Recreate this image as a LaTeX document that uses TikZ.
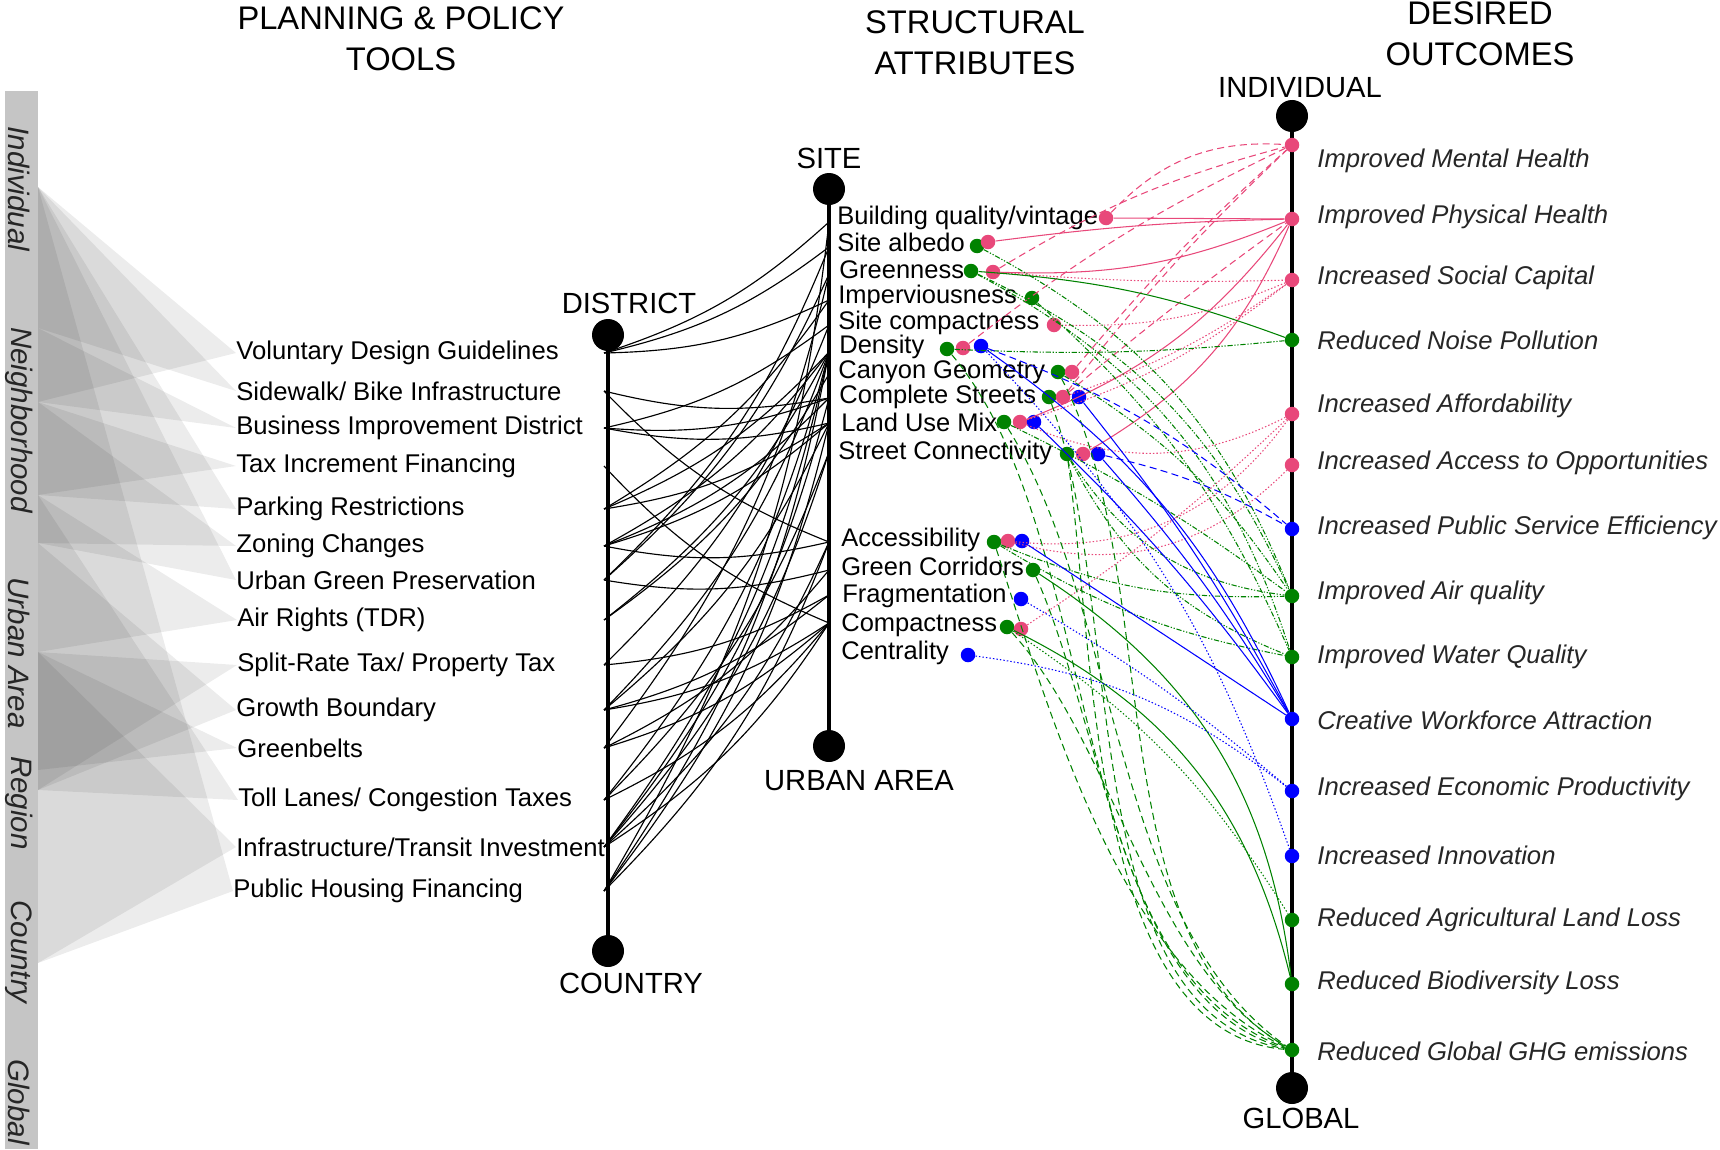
\documentclass[tikz,border=0pt]{standalone}
\usepackage{fontspec}
\setmainfont{Liberation Sans}
\usepackage{tikz}
\usetikzlibrary{positioning}
\definecolor{outpink}{RGB}{232,72,122}
\definecolor{outgreen}{RGB}{0,130,0}
\definecolor{outblue}{RGB}{0,0,255}
\definecolor{bargray}{RGB}{197,197,197}
\tikzset{
  head/.style={align=center, inner sep=0pt, font=\fontsize{18.6}{23.2}\selectfont},
  axlabel/.style={inner sep=0pt, font=\fontsize{16.6}{20}\selectfont},
  scalelab/.style={rotate=-90, inner sep=0pt, text=black!85, font=\fontsize{16.8}{20}\selectfont\itshape},
  tool/.style={anchor=west, inner sep=0pt, font=\fontsize{14.6}{17}\selectfont},
  attr/.style={anchor=west, inner sep=0pt, font=\fontsize{14.5}{17}\selectfont},
  outc/.style={anchor=west, inner sep=0pt, text=black!85, font=\fontsize{14.6}{17}\selectfont\itshape},
  bigdot/.style={circle, fill=black, inner sep=0pt, minimum size=6.4mm},
  dotg/.style={circle, fill=outgreen, inner sep=0pt, minimum size=2.9mm},
  dotp/.style={circle, fill=outpink, inner sep=0pt, minimum size=2.9mm},
  dotb/.style={circle, fill=outblue, inner sep=0pt, minimum size=2.9mm},
  axis/.style={line width=1.8pt},
  link/.style={line width=0.65pt, bend right=12},
  fan/.style={fill=black, fill opacity=0.075},
  pk/.style={draw=outpink, line width=0.6pt},
  gn/.style={draw=outgreen, line width=0.6pt},
  bl/.style={draw=outblue, line width=0.6pt},
  lsolid/.style={solid},
  ldash/.style={dash pattern=on 4pt off 2.5pt},
  ldot/.style={dash pattern=on 0.8pt off 1.2pt},
  ldd/.style={dash pattern=on 3pt off 1pt on 0.7pt off 1pt on 0.7pt off 1pt},
}

\begin{document}
\begin{tikzpicture}[x=0.2mm,y=0.2mm]
  \useasboundingbox (0,0) rectangle (1720,-1149);

  % scale bar
  \fill[bargray] (5,-91) rectangle (38,-1149);
  \foreach \i/\n/\y in {1/Individual/189, 2/Neighborhood/420, 3/Urban Area/653, 4/Region/803, 5/Country/952, 6/Global/1102}
    \node[scalelab] (sc\i) at (19,-\y) {\n};
  \foreach \i/\y in {1/187,2/328,3/402,4/495,5/543,6/652,7/770,8/790,9/963}
    \coordinate (b\i) at (38,-\y);

  % headings
  \node[head] (hplan) at (401,-39) {PLANNING \& POLICY\\TOOLS};
  \node[head] (hstruct) at (975,-43) {STRUCTURAL\\ATTRIBUTES};
  \node[head] (hout) at (1480,-34) {DESIRED\\OUTCOMES};

  % planning tools
  \node[tool] (t1) at (236,-353) {Voluntary Design Guidelines};
  \node[tool] (t2) at (236,-391) {Sidewalk/ Bike Infrastructure};
  \node[tool] (t3) at (236,-428) {Business Improvement District};
  \node[tool] (t4) at (236,-466) {Tax Increment Financing};
  \node[tool] (t5) at (236,-509) {Parking Restrictions};
  \node[tool] (t6) at (236,-546) {Zoning Changes};
  \node[tool] (t7) at (236,-580) {Urban Green Preservation};
  \node[tool] (t8) at (237,-620) {Air Rights (TDR)};
  \node[tool] (t9) at (237,-665) {Split-Rate Tax/ Property Tax};
  \node[tool] (t10) at (236,-710) {Growth Boundary};
  \node[tool] (t11) at (237,-748) {Greenbelts};
  \node[tool] (t12) at (238,-800) {Toll Lanes/ Congestion Taxes};
  \node[tool] (t13) at (236,-847) {Infrastructure/Transit Investment};
  \node[tool] (t14) at (233,-891) {Public Housing Financing};

  \foreach \i/\p/\q in {1/1/3, 2/1/2, 3/2/3, 4/3/4, 5/1/4, 6/3/5, 7/1/5, 8/4/6, 9/6/8, 10/5/8, 11/6/7, 12/4/8, 13/6/9, 14/1/9}
    \fill[fan] (b\p) -- (b\q) -- (t\i.west) -- cycle;

  % scale axes
  \node[bigdot] (district) at (608,-335) {};
  \node[bigdot] (country) at (608,-951) {};
  \node[axlabel] (ldistrict) at (629,-303) {DISTRICT};
  \node[axlabel] (lcountry) at (631,-983) {COUNTRY};
  \node[bigdot] (site) at (829,-189) {};
  \node[bigdot] (urban) at (829,-746) {};
  \node[axlabel, above=0.8mm of site] (lsite) {SITE};
  \node[axlabel] (lurban) at (859,-781) {URBAN AREA};
  \node[bigdot] (indiv) at (1292,-116) {};
  \node[bigdot] (global) at (1292,-1088) {};
  \node[axlabel] (lindiv) at (1300,-88) {INDIVIDUAL};
  \node[axlabel] (lglobal) at (1301,-1118) {GLOBAL};

  % tools -> attributes
  \foreach \i/\y in {1/353,2/391,3/428,4/466,5/509,6/546,7/580,8/620,9/665,10/710,11/748,12/800,13/847,14/891}
    \coordinate (d\i) at (604,-\y);
  \foreach \i/\y in {1/222,2/247,3/274,4/300,5/325,6/352,7/374,8/398,9/423,10/452,11/542,12/570,13/595,14/623,15/653}
    \coordinate (s\i) at (829,-\y);
  \foreach \t/\a in {1/1,14/1, 1/2,7/2, 7/3,11/3, 1/4,5/4, 3/5,9/5,
      5/6,6/6,8/6,10/6,12/6,13/6,14/6, 8/7, 2/8,3/8,6/8,13/8,
      3/9,5/9,6/9,10/9,14/9, 12/10,13/10, 2/11,6/11,13/11,14/11,
      7/12,11/12, 9/13,10/13, 4/14,10/14,11/14,12/14,13/14}
    \draw[link] (d\t) to (s\a);

  \draw[axis] (district) -- (country);
  \draw[axis] (site) -- (urban);
  \draw[axis] (indiv) -- (global);

  % structural attributes
  \node[attr] (at1) at (837,-218) {Building quality/vintage};
  \node[attr] (at2) at (837,-242) {Site albedo};
  \node[attr] (at3) at (839,-270) {Greenness};
  \node[attr] (at4) at (838,-297) {Imperviousness};
  \node[attr] (at5) at (838,-323) {Site compactness};
  \node[attr] (at6) at (839,-347) {Density};
  \node[attr] (at7) at (838,-372) {Canyon Geometry};
  \node[attr] (at8) at (839,-397) {Complete Streets};
  \node[attr] (at9) at (841,-422) {Land Use Mix};
  \node[attr] (at10) at (838,-453) {Street Connectivity};
  \node[attr] (at11) at (841,-540) {Accessibility};
  \node[attr] (at12) at (841,-566) {Green Corridors};
  \node[attr] (at13) at (842,-596) {Fragmentation};
  \node[attr] (at14) at (841,-625) {Compactness};
  \node[attr] (at15) at (841,-653) {Centrality};

  \foreach \n/\c/\x/\y in {a1p/dotp/1106/218, a2g/dotg/977/246, a2p/dotp/988/242,
      a3g/dotg/971/271, a3p/dotp/993/272, a4g/dotg/1032/298, a5p/dotp/1054/325,
      a6g/dotg/947/349, a6p/dotp/963/348, a6b/dotb/981/346,
      a7g/dotg/1058/372, a7p/dotp/1072/372,
      a8g/dotg/1049/397, a8p/dotp/1063/397, a8b/dotb/1079/397,
      a9g/dotg/1004/422, a9p/dotp/1020/422, a9b/dotb/1034/422,
      a10g/dotg/1067/454, a10p/dotp/1083/454, a10b/dotb/1098/454,
      a11g/dotg/994/542, a11p/dotp/1008/541, a11b/dotb/1022/541,
      a12g/dotg/1033/570, a13b/dotb/1021/599,
      a14g/dotg/1007/627, a14p/dotp/1021/629, a15b/dotb/968/655}
    \node[\c] (\n) at (\x,-\y) {};

  % desired outcomes
  \foreach \i/\c/\y/\ty/\txt in {1/dotp/145/161/Improved Mental Health,
      2/dotp/219/217/Improved Physical Health,
      3/dotp/280/278/Increased Social Capital,
      4/dotg/340/340/Reduced Noise Pollution,
      5/dotp/414/406/Increased Affordability,
      6/dotp/465/463/Increased Access to Opportunities,
      7/dotb/529/528/Increased Public Service Efficiency,
      8/dotg/596/593/Improved Air quality,
      9/dotg/657/657/Improved Water Quality,
      10/dotb/719/720/Creative Workforce Attraction,
      11/dotb/791/789/Increased Economic Productivity,
      12/dotb/856/855/Increased Innovation,
      13/dotg/920/920/Reduced Agricultural Land Loss,
      14/dotg/984/983/Reduced Biodiversity Loss,
      15/dotg/1050/1051/Reduced Global GHG emissions}
  {
    \node[\c] (o\i) at (1292,-\y) {};
    \node[outc] (ol\i) at (1317,-\ty) {\txt};
  }

  % attributes -> outcomes
  \foreach \a/\o/\s/\b in {a1p/o1/ldash/25, a1p/o2/lsolid/0, a2p/o2/lsolid/3,
      a3p/o1/ldash/8, a3p/o2/lsolid/-12, a3p/o3/ldot/-3, a5p/o3/ldot/-12,
      a6p/o1/ldash/6, a7p/o1/ldash/4, a8p/o1/ldash/4, a8p/o2/ldash/2, a8p/o3/ldot/-8,
      a9p/o2/lsolid/-15, a9p/o3/ldot/-10, a9p/o5/ldot/-25, a10p/o2/lsolid/-18,
      a11p/o5/ldot/-30, a11p/o6/ldot/-30, a14p/o5/ldot/-5}
    \draw[pk,\s] (\a) to[bend left=\b] (\o);
  \foreach \a/\o/\s/\b in {a2g/o8/ldd/20, a3g/o4/lsolid/8, a3g/o8/ldd/20, a3g/o9/ldd/22,
      a4g/o9/ldd/12, a6g/o4/ldd/-4, a7g/o8/ldd/12, a9g/o8/ldd/5, a10g/o8/ldd/-25,
      a10g/o9/ldd/-20, a11g/o8/ldd/-12, a11g/o9/ldd/-10, a12g/o14/lsolid/25,
      a14g/o14/lsolid/25, a14g/o13/ldot/12}
    \draw[gn,\s] (\a) to[bend left=\b] (\o);
  \foreach \a/\ang/\in in {a6g/-50/160, a7g/-62/150, a8g/-70/170, a9g/-58/145,
      a10g/-82/175, a11g/-72/155, a12g/-66/165, a14g/-48/150}
    \draw[gn,ldash] (\a) to[out=\ang, in=\in, looseness=0.8] (o15);
  \foreach \a/\o/\s/\b in {a6b/o7/ldash/10, a6b/o10/lsolid/15, a6b/o12/ldot/12,
      a8b/o10/lsolid/5, a9b/o10/lsolid/5, a10b/o7/ldash/8, a10b/o10/lsolid/5,
      a11b/o10/lsolid/0, a13b/o11/ldot/5, a15b/o11/ldot/15}
    \draw[bl,\s] (\a) to[bend left=\b] (\o);
\end{tikzpicture}
\end{document}
